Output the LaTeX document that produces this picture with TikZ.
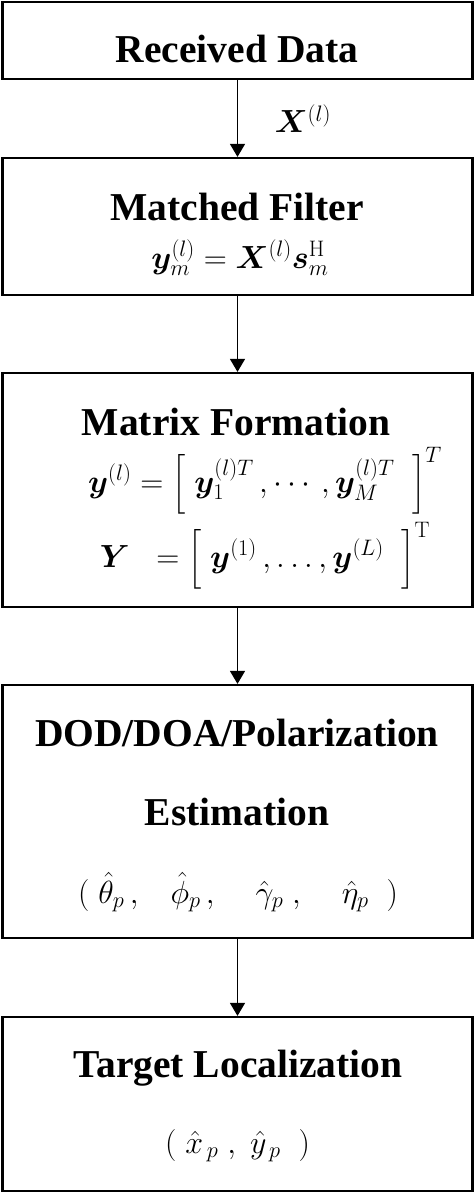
\RequirePackage{fix-cm}
\documentclass[tikz,border=0pt]{standalone}
\usepackage{amsmath}
\usepackage[no-math]{fontspec}
\setmainfont{Liberation Serif}
\usepackage{bm}
\usetikzlibrary{arrows.meta}
\tikzstyle{Box}=[draw=black,line width=2.2pt,minimum width=470pt,inner sep=0pt]
\tikzstyle{Edge}=[draw=black,line width=1.3pt,-{Triangle[length=13pt,width=15pt]}]
\tikzstyle{NodeTitle}=[font=\fontsize{39.5}{44}\selectfont\bfseries,inner sep=0pt]
\tikzstyle{NodeEq}=[font=\fontsize{32}{38}\selectfont,inner sep=0pt]

\begin{document}
\begin{tikzpicture}[x=1pt,y=-1pt]
            \useasboundingbox(0,0)rectangle(474,1193);
            \node[Box,minimum height=77pt](1)at(237.5,40.5){};
            \node[Box,minimum height=137pt](2)at(237.5,226.5){};
            \node[Box,minimum height=234pt](3)at(237.5,490){};
            \node[Box,minimum height=253pt](4)at(237.5,811.5){};
            \node[Box,minimum height=174pt](5)at(237.5,1104){};
            % titles
            \node[NodeTitle,anchor=base](t1)at(237,63){Received Data};
            \node[NodeTitle,anchor=base](t2)at(237,220){Matched Filter};
            \node[NodeTitle,anchor=base](t3)at(236,435){Matrix Formation};
            \node[NodeTitle,anchor=base](t4a)at(237,746){DOD/DOA/Polarization};
            \node[NodeTitle,anchor=base](t4b)at(237,825){Estimation};
            \node[NodeTitle,anchor=base](t5)at(238,1077){Target Localization};
            % formulas
            \node[NodeEq,anchor=base](x)at(303,133)
                {\begin{math}\bm{X}^{(l)}\end{math}};
            \node[NodeEq,anchor=base](e2)at(240,268)
                {\begin{math}\bm{y}_m^{(l)}=\bm{X}^{(l)}\bm{s}_m^{\mathrm{H}}\end{math}};
            \node[NodeEq,anchor=base](e3a)at(265,492)
                {\begin{math}\bm{y}^{(l)}=\Big[\;\bm{y}_1^{(l)T}\,,\cdots,\bm{y}_M^{(l)T}\;\;\Big]^T\end{math}};
            \node[NodeEq,anchor=base](e3b)at(265,567)
                {\begin{math}\bm{Y}\;\;=\Big[\;\bm{y}^{(1)}\,,\ldots,\bm{y}^{(L)}\;\;\Big]^{\mathrm{T}}\end{math}};
            \node[NodeEq,anchor=base](e4)at(238,903)
                {\begin{math}(\;\hat{\theta}_p\,,\;\;\;\hat{\phi}_p\,,\;\;\;\;\hat{\gamma}_p\;,\;\;\;\;\hat{\eta}_p\;\;)\end{math}};
            \node[NodeEq,anchor=base](e5)at(237.5,1153)
                {\begin{math}(\;\hat{x}_{\,p}\;,\;\hat{y}_{\,p}\;\;)\end{math}};
            % arrows
            \draw[Edge](1)--(2);
            \draw[Edge](2)--(3);
            \draw[Edge](3)--(4);
            \draw[Edge](4)--(5);
        \end{tikzpicture}
\end{document}
